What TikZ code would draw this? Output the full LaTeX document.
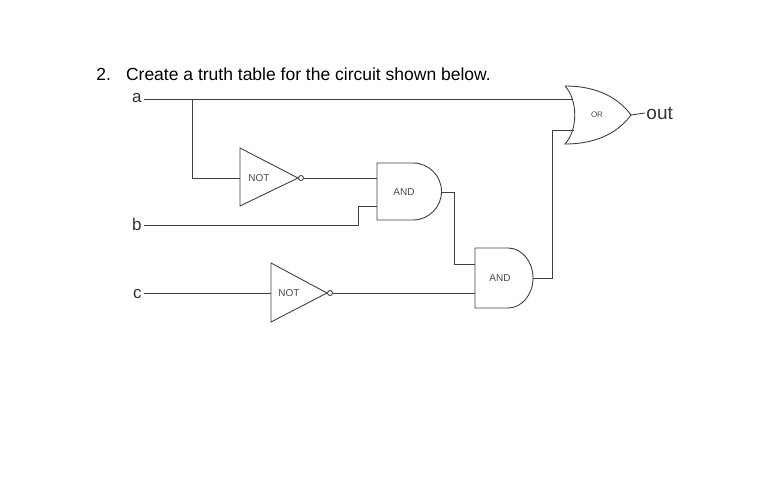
\documentclass[tikz,border=0pt]{standalone}
\usepackage{fontspec}
\setmainfont{Liberation Sans}
\begin{document}
\begin{tikzpicture}[x=1pt,y=-1pt,line width=0.9pt,
  w/.style={draw=black!75},
  gl/.style={font=\fontsize{10}{11}\selectfont,text=black!70},
  lab/.style={font=\fontsize{17}{18}\selectfont,text=black!80}]
\useasboundingbox (0,0) rectangle (759,493);
\node[anchor=west,font=\fontsize{17.5}{19}\selectfont,inner sep=0] (t) at (96,74) {2.\hspace{15pt}Create a truth table for the circuit shown below.};
% labels
\node[lab,anchor=east,inner sep=1pt] (la) at (143,98) {a};
\node[lab,anchor=east,inner sep=1pt] (lb) at (143,224) {b};
\node[lab,anchor=east,inner sep=1pt] (lc) at (143,294) {c};
% NOT1
\draw[w] (240,148) -- (298,178) -- (240,206) -- cycle;
\draw[w] (301,178) circle (2.5);
\node[gl] (n1) at (259,178) {NOT};
\coordinate (n1i) at (240,178); \coordinate (n1o) at (304,178);
% NOT2
\draw[w] (271,263) -- (327,293) -- (271,322) -- cycle;
\draw[w] (330,293) circle (2.5);
\node[gl] (n2) at (289,293) {NOT};
\coordinate (n2i) at (271,293); \coordinate (n2o) at (333,293);
% AND1
\draw[w] (377,163) -- (413,163) arc (-90:90:28.5 and 28.5) -- (377,220) -- cycle;
\node[gl] (g1) at (404,192) {AND};
% AND2
\draw[w] (475,248) -- (508,248) arc (-90:90:25 and 30) -- (475,308) -- cycle;
\node[gl] (g2) at (500,278) {AND};
% OR
\draw[w] (565,86) .. controls (578,100) and (578,130) .. (565,144)
  .. controls (600,144) and (620,130) .. (631,115)
  .. controls (620,100) and (600,86) .. (565,86);
\node[gl,font=\fontsize{8}{9}\selectfont] (g3) at (597,115) {OR};
\node[lab,anchor=west,inner sep=1pt,font=\fontsize{19}{20}\selectfont] (out) at (645,113) {out};
% wires
\coordinate (sa) at (144,99); \coordinate (sb) at (144,225); \coordinate (sc) at (144,293);
\draw[w] (sa) -- (572,99);
\draw[w] (192,99) |- (n1i);
\draw[w] (n1o) -- (377,178);
\draw[w] (sb) -- (358,225) |- (377,206);
\draw[w] (441,192) -- (454,192) |- (475,264);
\draw[w] (sc) -- (n2i);
\draw[w] (n2o) -- (475,293);
\draw[w] (533,278) -- (552,278) |- (574,130);
\draw[w] (631,115) -- (out.west);
\end{tikzpicture}
\end{document}
